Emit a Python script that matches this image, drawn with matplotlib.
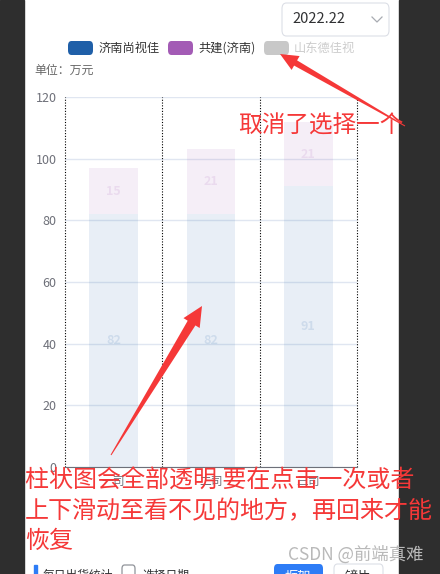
import matplotlib.pyplot as plt
from matplotlib.patches import FancyBboxPatch, Rectangle, Polygon
import numpy as np

plt.rcParams['font.family'] = ['Noto Sans CJK SC', 'DejaVu Sans']

# --- data ---
categories = ["一司", "二司", "三司"]
jinan_sxj = [82, 82, 91]
gongjian = [15, 21, 21]
series_names = ["济南尚视佳", "共建(济南)", "山东德佳视"]
series_colors = ["#1f5fa8", "#a35bb5", "#c8c8c8"]
y_ticks = [0, 20, 40, 60, 80, 100, 120]

W, H = 440, 574


def fx(x):
    return x / W


def fy(y):
    return 1 - y / H


fig = plt.figure(figsize=(W / 100, H / 100), dpi=100)
fig.patch.set_facecolor("white")

# dark side bars of the screenshot
fig.add_artist(Rectangle((0, 0), fx(24), 1, transform=fig.transFigure, color="#2e2e2e", zorder=0))
fig.add_artist(Rectangle((fx(399), 0), 1 - fx(399), 1, transform=fig.transFigure, color="#2e2e2e", zorder=0))

# --- chart ---
ax = fig.add_axes([fx(65), fy(467), fx(357) - fx(65), fy(97) - fy(467)])
x = np.arange(len(categories))
bw = 0.5
ax.bar(x, jinan_sxj, width=bw, color=series_colors[0], alpha=0.1, zorder=2)
ax.bar(x, gongjian, width=bw, bottom=jinan_sxj, color=series_colors[1], alpha=0.1, zorder=2)
for i in range(len(categories)):
    ax.text(x[i], jinan_sxj[i] / 2, str(jinan_sxj[i]), ha="center", va="center",
            fontsize=9, fontweight="bold", color=series_colors[0], alpha=0.13, zorder=3)
    ax.text(x[i], jinan_sxj[i] + gongjian[i] / 2, str(gongjian[i]), ha="center", va="center",
            fontsize=9, fontweight="bold", color=series_colors[1], alpha=0.13, zorder=3)

ax.set_xlim(-0.5, len(categories) - 0.5)
ax.set_ylim(0, 120)
ax.set_yticks(y_ticks)
ax.set_xticks(x)
ax.set_xticklabels(categories)
ax.tick_params(axis="y", length=0, pad=6, labelsize=9, labelcolor="#6e7079")
ax.tick_params(axis="x", length=0, pad=6, labelsize=8.5, labelcolor="#6e7079")
ax.grid(axis="y", color="#e0e6f1", linewidth=1, zorder=1)
ax.set_axisbelow(True)
for b in np.arange(-0.5, len(categories), 1.0):
    ax.axvline(b, color="black", linestyle=(0, (1, 1.5)), linewidth=0.8, zorder=4, clip_on=False)
for s in ["left", "top", "right"]:
    ax.spines[s].set_visible(False)
ax.spines["bottom"].set_color("#6e7079")
ax.spines["bottom"].set_zorder(5)

# --- unit label ---
fig.text(fx(34), fy(70), "单位：万元", fontsize=8.6, color="#666666", va="center")

# --- legend (third series deselected) ---
lx = [68, 168, 264]
for i, name in enumerate(series_names):
    fig.add_artist(FancyBboxPatch((fx(lx[i]), fy(55)), fx(25), fy(41) - fy(55),
                                  boxstyle="round,pad=0,rounding_size=0.008",
                                  transform=fig.transFigure, color=series_colors[i], lw=0))
    fig.text(fx(lx[i] + 30), fy(48), name, fontsize=8.8, va="center",
             color="#333333" if i < 2 else "#cccccc")

# --- dropdown ---
fig.add_artist(FancyBboxPatch((fx(282), fy(36)), fx(107), fy(3) - fy(36),
                              boxstyle="round,pad=0,rounding_size=0.01",
                              transform=fig.transFigure, facecolor="white",
                              edgecolor="#dcdfe6", lw=0.8))
fig.text(fx(292), fy(19), "2022.22", fontsize=10.5, color="#303133", va="center")
fig.add_artist(plt.Line2D([fx(372), fx(377), fx(382)], [fy(17), fy(22), fy(17)],
                          transform=fig.transFigure, color="#a8abb2", lw=0.9))


# --- red annotation arrows ---
def tapered_arrow(tail, tip, w_tail, w_neck, head_w, head_len):
    tail = np.array(tail, float)
    tip = np.array(tip, float)
    d = tip - tail
    d /= np.hypot(*d)
    n = np.array([-d[1], d[0]])
    neck = tip - d * head_len
    pts = [tail + n * w_tail / 2, neck + n * w_neck / 2, neck + n * head_w / 2, tip,
           neck - n * head_w / 2, neck - n * w_neck / 2, tail - n * w_tail / 2]
    pts = [(fx(p[0]), fy(p[1])) for p in pts]
    fig.add_artist(Polygon(pts, closed=True, transform=fig.transFigure,
                           color="#f53838", lw=0, zorder=10))


tapered_arrow((405, 126), (280, 54), 1, 6, 16, 18)
tapered_arrow((111, 455), (202, 306), 1, 9, 19, 20)

red = "#f53838"
fig.text(fx(238), fy(126), "取消了选择一个", fontsize=17, color=red, va="center", zorder=11)
fig.text(fx(25), fy(481), "柱状图会全部透明 要在点击一次或者", fontsize=17.3, color=red, va="center", zorder=11)
fig.text(fx(25), fy(511), "上下滑动至看不见的地方，再回来才能", fontsize=17.3, color=red, va="center", zorder=11)
fig.text(fx(25), fy(541), "恢复", fontsize=17.3, color=red, va="center", zorder=11)

# --- watermark ---
fig.text(fx(288), fy(555), "CSDN @前端真难", fontsize=12.5, color="#b9b9b9", va="center", zorder=11)

# --- bottom row of the page (cut off) ---
fig.add_artist(Rectangle((fx(34), 0), fx(3), fy(565), transform=fig.transFigure, color="#2d7cf6"))
fig.text(fx(43), fy(575), "每日出货统计", fontsize=8.5, color="#303133", va="center")
fig.add_artist(FancyBboxPatch((fx(122), fy(580)), fx(13), fy(565) - fy(580),
                              boxstyle="round,pad=0,rounding_size=0.006",
                              transform=fig.transFigure, facecolor="white",
                              edgecolor="#909399", lw=0.9))
fig.text(fx(142), fy(575), "选择日期", fontsize=8.5, color="#303133", va="center")
fig.add_artist(FancyBboxPatch((fx(274), fy(585)), fx(49), fy(564) - fy(585),
                              boxstyle="round,pad=0,rounding_size=0.008",
                              transform=fig.transFigure, color="#2d7cf6", lw=0))
fig.text(fx(298), fy(577), "框架", fontsize=9.5, color="white", va="center", ha="center")
fig.add_artist(FancyBboxPatch((fx(334), fy(585)), fx(49), fy(564) - fy(585),
                              boxstyle="round,pad=0,rounding_size=0.008",
                              transform=fig.transFigure, facecolor="white",
                              edgecolor="#dcdfe6", lw=0.8))
fig.text(fx(358), fy(577), "镜片", fontsize=9.5, color="#303133", va="center", ha="center")

fig.savefig("out.png", dpi=100)
